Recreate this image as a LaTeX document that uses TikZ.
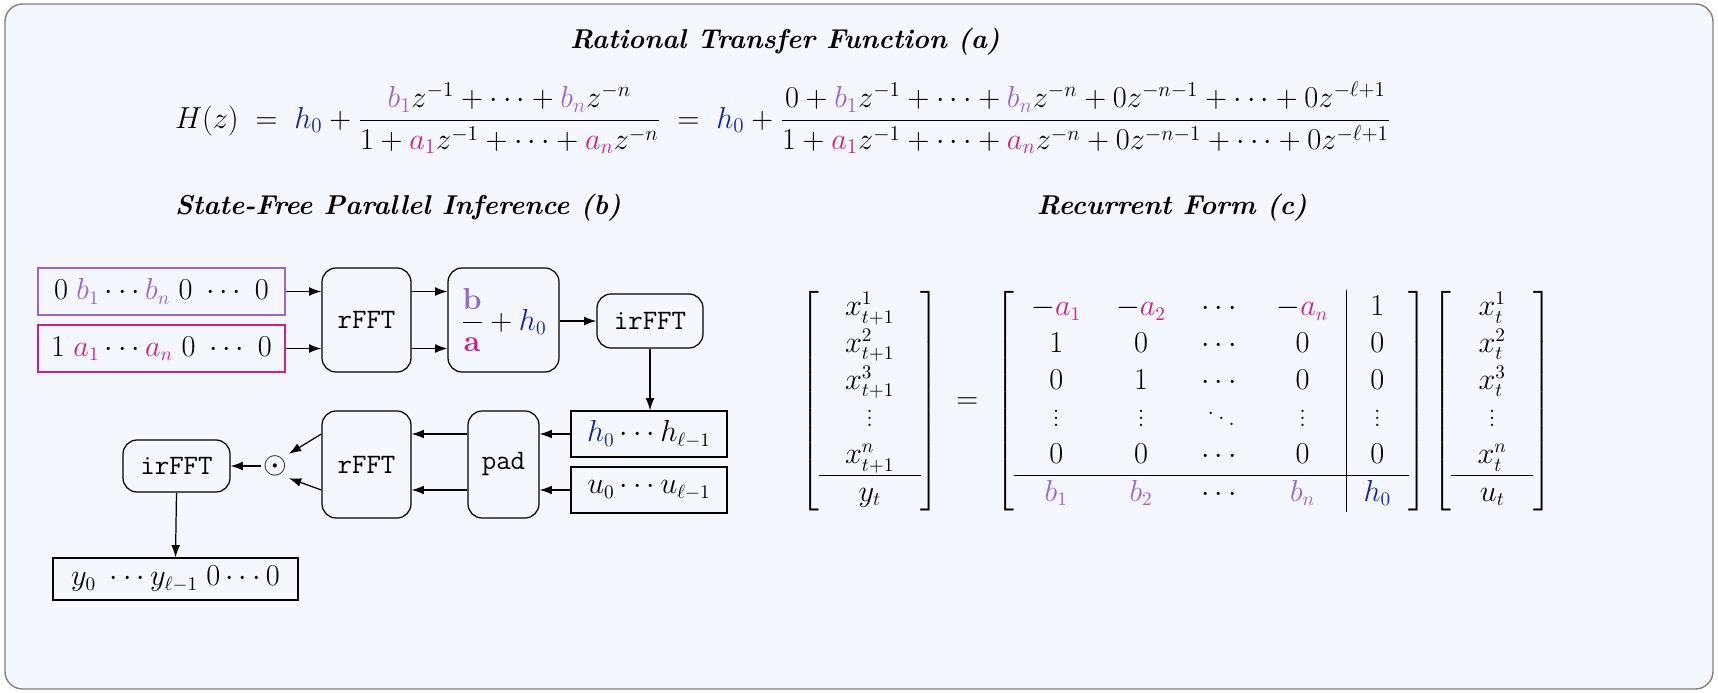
\documentclass[tikz,border=0pt]{standalone}
\usepackage{amsmath,amssymb}
\usetikzlibrary{arrows.meta}
\definecolor{bg}{HTML}{F5F7FE}
\definecolor{cb}{HTML}{9966CC}
\definecolor{ca}{HTML}{CC2288}
\definecolor{ch}{HTML}{1A2299}
\newcommand{\B}[1]{\textcolor{cb}{#1}}
\newcommand{\A}[1]{\textcolor{ca}{#1}}
\newcommand{\Hh}[1]{\textcolor{ch}{#1}}
\tikzset{
  x=0.02cm,y=-0.02cm,
  every node/.style={font=\fontsize{16}{19}\selectfont},
  ttl/.style={font=\fontsize{15.5}{19}\selectfont\bfseries\itshape},
  rbox/.style={draw,rounded corners=8pt,line width=0.7pt,inner sep=0pt},
  sbox/.style={draw,line width=0.7pt,inner sep=0pt},
  arr/.style={-{Latex[length=7pt,width=5pt]},line width=0.7pt},
}
\begin{document}
\begin{tikzpicture}
\useasboundingbox (0,0) rectangle (1718,693);
\draw[fill=bg,draw=gray,line width=0.8pt,rounded corners=10pt] (5,4) rectangle (1713,689);
\node[ttl] (ta) at (785,42) {Rational Transfer Function (a)};
\node[font=\fontsize{18.5}{22}\selectfont] (eq) at (783,118) {$\displaystyle H(z) \;=\; \Hh{h_0} + \frac{\B{b_1}z^{-1}+\cdots+\B{b_n}z^{-n}}{1+\A{a_1}z^{-1}+\cdots+\A{a_n}z^{-n}} \;=\; \Hh{h_0} + \frac{0+\B{b_1}z^{-1}+\cdots+\B{b_n}z^{-n}+0z^{-n-1}+\cdots+0z^{-\ell+1}}{1+\A{a_1}z^{-1}+\cdots+\A{a_n}z^{-n}+0z^{-n-1}+\cdots+0z^{-\ell+1}}$};
\node[ttl] (tb) at (398,208) {State-Free Parallel Inference (b)};
\node[ttl] (tc) at (1172,208) {Recurrent Form (c)};
% diagram
\node[sbox,draw=cb,minimum width=4.94cm,minimum height=0.94cm] (bb) at (161.5,291.5) {$0\;\B{b_1}\cdots\B{b_n}\;0\;\cdots\;0$};
\node[sbox,draw=ca,minimum width=4.94cm,minimum height=0.94cm] (ab) at (161.5,348.5) {$1\;\A{a_1}\cdots\A{a_n}\;0\;\cdots\;0$};
\node[rbox,minimum width=1.78cm,minimum height=2.08cm] (f1) at (366.5,320) {\texttt{rFFT}};
\node[rbox,minimum width=2.22cm,minimum height=2.08cm] (rt) at (503.5,320) {$\dfrac{\B{\mathbf b}}{\A{\mathbf a}}+\Hh{h_0}$};
\node[rbox,minimum width=2.12cm,minimum height=1.08cm] (i1) at (650,321) {\texttt{irFFT}};
\node[sbox,minimum width=3.12cm,minimum height=0.92cm] (hb) at (649,434) {$\Hh{h_0}\cdots h_{\ell-1}$};
\node[sbox,minimum width=3.12cm,minimum height=0.92cm] (ub) at (649,490) {$u_0\cdots u_{\ell-1}$};
\node[rbox,minimum width=1.42cm,minimum height=2.14cm] (pad) at (503.5,464.5) {\texttt{pad}};
\node[rbox,minimum width=1.78cm,minimum height=2.14cm] (f2) at (366.5,464.5) {\texttt{rFFT}};
\node[inner sep=1pt] (od) at (275,466) {$\odot$};
\node[rbox,minimum width=2.14cm,minimum height=1.04cm] (i2) at (176.5,466) {\texttt{irFFT}};
\node[sbox,minimum width=4.9cm,minimum height=0.84cm] (yb) at (175.5,579) {$y_0\;\cdots y_{\ell-1}\;0\cdots0$};
\draw[arr] (bb.east) -- (f1.west|-bb.east);
\draw[arr] (ab.east) -- (f1.west|-ab.east);
\draw[arr] (f1.east|-bb.east) -- (rt.west|-bb.east);
\draw[arr] (f1.east|-ab.east) -- (rt.west|-ab.east);
\draw[arr] (rt.east|-i1.west) -- (i1.west);
\draw[arr] (i1.south) -- (hb.north-|i1.south);
\draw[arr] (hb.west) -- (pad.east|-hb.west);
\draw[arr] (ub.west) -- (pad.east|-ub.west);
\draw[arr] (pad.west|-hb.west) -- (f2.east|-hb.west);
\draw[arr] (pad.west|-ub.west) -- (f2.east|-ub.west);
\draw[arr] (f2.west|-hb.west) -- (od.north east);
\draw[arr] (f2.west|-ub.west) -- (od.south east);
\draw[arr] (od.west) -- (i2.east);
\draw[arr] (i2.south) -- (yb.north);
% matrix
\node (mx) at (1176,401) {$\renewcommand{\arraystretch}{1.1}\setlength{\arraycolsep}{15pt}\left[\begin{array}{c} x^1_{t+1}\\ x^2_{t+1}\\ x^3_{t+1}\\ \vdots\\ x^n_{t+1}\\ \hline y_t\end{array}\right]
\;=\;\setlength{\arraycolsep}{10pt}\left[\begin{array}{cccc|c} -\A{a_1} & -\A{a_2} & \cdots & -\A{a_n} & 1\\ 1&0&\cdots&0&0\\ 0&1&\cdots&0&0\\ \vdots&\vdots&\ddots&\vdots&\vdots\\ 0&0&\cdots&0&0\\ \hline \B{b_1}&\B{b_2}&\cdots&\B{b_n}&\Hh{h_0}\end{array}\right]
\setlength{\arraycolsep}{15pt}\left[\begin{array}{c} x^1_{t}\\ x^2_{t}\\ x^3_{t}\\ \vdots\\ x^n_{t}\\ \hline u_t\end{array}\right]$};
\end{tikzpicture}
\end{document}
